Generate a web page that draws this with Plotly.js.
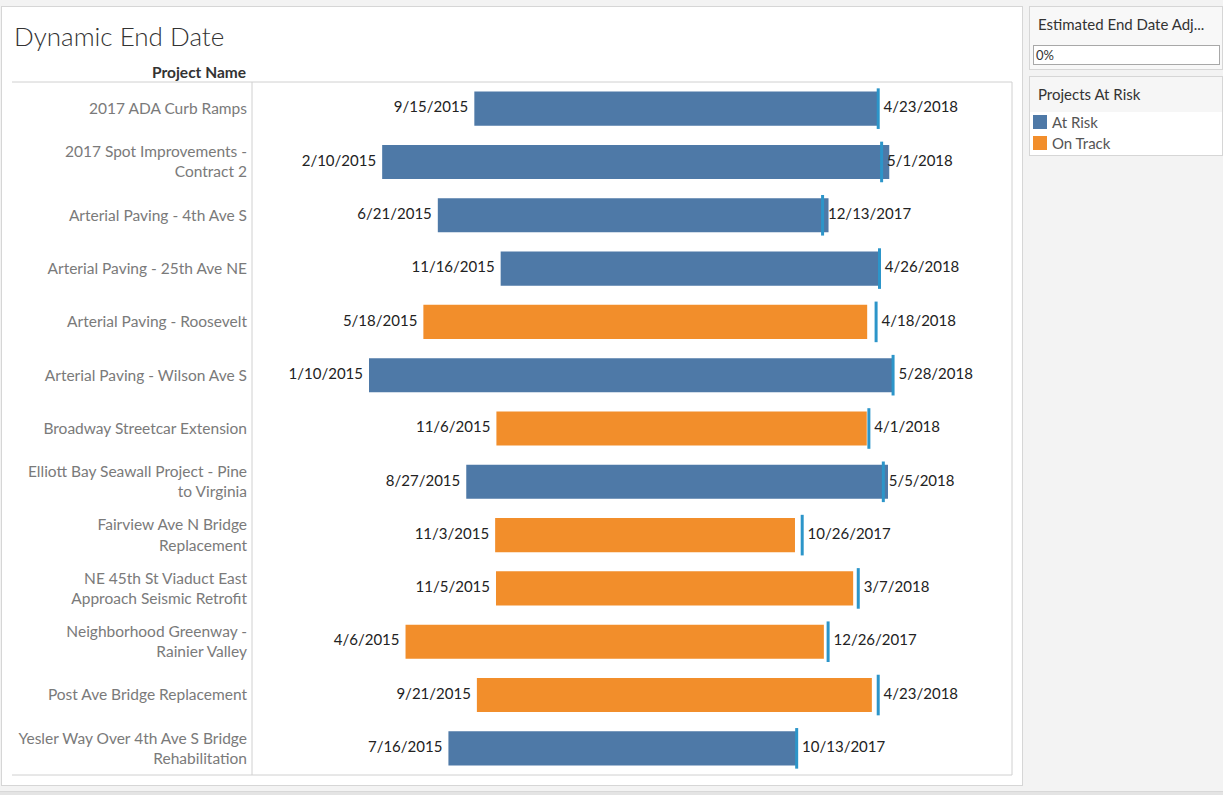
<!DOCTYPE html>
<html>
<head>
<meta charset="utf-8">
<script src="https://cdn.plot.ly/plotly-3.0.1.min.js"></script>
<style>
  html, body { margin:0; padding:0; width:1223px; height:795px; overflow:hidden; background:#f3f3f3; font-family: Lato, "Noto Sans", sans-serif; }
  .panel { position:absolute; box-sizing:border-box; border:1px solid #d6d6d6; }
  #main { left:1px; top:6px; width:1022px; height:780px; background:#fff; }
  #param { left:1029px; top:6px; width:194px; height:64px; background:#f8f8f8; }
  #legendbox { left:1029px; top:76px; width:194px; height:80px; background:#fff; }
  #bottombar { position:absolute; left:0; top:791px; width:1223px; height:4px; background:#e4e4e4; border-top:1px solid #d8d8d8; }
  .ptitle { position:absolute; left:8px; font-size:15px; color:#333; line-height:18px; white-space:nowrap; }
  #inputbox { position:absolute; left:3px; top:38px; width:187px; height:20px; box-sizing:border-box; background:#fff; border:1px solid #a8a8a8; font-size:13px; color:#333; line-height:18px; padding-left:2px; }
  #lheader { position:absolute; left:0; top:0; width:192px; height:35px; background:#f6f6f6; }
  .sw { position:absolute; left:3px; width:14px; height:14px; }
  .lt { position:absolute; left:22px; font-size:15px; color:#555; line-height:18px; white-space:nowrap; }
  #chart { position:absolute; left:0; top:0; width:1223px; height:795px; }
</style>
</head>
<body>
<div id="main" class="panel"></div>
<div id="param" class="panel">
  <div class="ptitle" style="top:8px;">Estimated End Date Adj...</div>
  <div id="inputbox">0%</div>
</div>
<div id="legendbox" class="panel">
  <div id="lheader"></div>
  <div class="ptitle" style="top:8px;">Projects At Risk</div>
  <div class="sw" style="top:38px; background:#4e79a7;"></div>
  <div class="lt" style="top:36px;">At Risk</div>
  <div class="sw" style="top:59px; background:#f28e2b;"></div>
  <div class="lt" style="top:57px;">On Track</div>
</div>
<div id="bottombar"></div>
<div id="chart"></div>
<script>
// ---------------- data ----------------
const projects = [
  '2017 ADA Curb Ramps',
  '2017 Spot Improvements - Contract 2',
  'Arterial Paving - 4th Ave S',
  'Arterial Paving - 25th Ave NE',
  'Arterial Paving - Roosevelt',
  'Arterial Paving - Wilson Ave S',
  'Broadway Streetcar Extension',
  'Elliott Bay Seawall Project - Pine to Virginia',
  'Fairview Ave N Bridge Replacement',
  'NE 45th St Viaduct East Approach Seismic Retrofit',
  'Neighborhood Greenway - Rainier Valley',
  'Post Ave Bridge Replacement',
  'Yesler Way Over 4th Ave S Bridge Rehabilitation'
];
const projectTickLabels = [
  '2017 ADA Curb Ramps',
  '2017 Spot Improvements -<br>Contract 2',
  'Arterial Paving - 4th Ave S',
  'Arterial Paving - 25th Ave NE',
  'Arterial Paving - Roosevelt',
  'Arterial Paving - Wilson Ave S',
  'Broadway Streetcar Extension',
  'Elliott Bay Seawall Project - Pine<br>to Virginia',
  'Fairview Ave N Bridge<br>Replacement',
  'NE 45th St Viaduct East<br>Approach Seismic Retrofit',
  'Neighborhood Greenway -<br>Rainier Valley',
  'Post Ave Bridge Replacement',
  'Yesler Way Over 4th Ave S Bridge<br>Rehabilitation'
];
const riskStatus = ['At Risk','At Risk','At Risk','At Risk','On Track','At Risk','On Track','At Risk','On Track','On Track','On Track','On Track','At Risk'];
const startDates = ['2015-09-15','2015-02-10','2015-06-21','2015-11-16','2015-05-18','2015-01-10','2015-11-06','2015-08-27','2015-11-03','2015-11-05','2015-04-06','2015-09-21','2015-07-16'];
const barEndDates = ['2018-04-23','2018-05-19','2017-12-27','2018-04-26','2018-03-28','2018-05-27','2018-03-27','2018-05-16','2017-10-09','2018-02-23','2017-12-16','2018-04-08','2017-10-12'];
const estimatedEndDates = ['2018-04-23','2018-05-01','2017-12-13','2018-04-26','2018-04-18','2018-05-28','2018-04-01','2018-05-05','2017-10-26','2018-03-07','2017-12-26','2018-04-23','2017-10-13'];
const statusColors = { 'At Risk': '#4e79a7', 'On Track': '#f28e2b' };

// ---------------- helpers ----------------
function fmt(d) { const p = d.split('-'); return (+p[1]) + '/' + (+p[2]) + '/' + p[0]; }
function ms(d) { return new Date(d + 'T00:00:00Z').getTime(); }

// ---------------- layout constants ----------------
const W = 1223, H = 795;
const L = 252, R = 1012, T = 82, B = 775;
const pw = R - L, ph = B - T;
const px2paperX = x => (x - L) / pw;
const px2paperY = y => (B - y) / ph;
const fontFam = 'Lato, "Noto Sans", sans-serif';

const traces = [];
['At Risk', 'On Track'].forEach(st => {
  const idx = projects.map((p, i) => i).filter(i => riskStatus[i] === st);
  traces.push({
    type: 'bar', orientation: 'h', name: st,
    y: idx.map(i => projects[i]),
    base: idx.map(i => startDates[i]),
    x: idx.map(i => ms(barEndDates[i]) - ms(startDates[i])),
    width: 0.64,
    marker: { color: statusColors[st], line: { width: 0 } },
    hoverinfo: 'skip', showlegend: false
  });
});
traces.push({
  type: 'scatter', mode: 'markers', name: 'Estimated End',
  y: projects, x: estimatedEndDates,
  marker: { symbol: 'line-ns', size: 29, color: '#2c95c9', line: { width: 3, color: '#2c95c9' } },
  hoverinfo: 'skip', showlegend: false, cliponaxis: false
});
traces.push({
  type: 'scatter', mode: 'markers+text', y: projects, x: startDates,
  text: startDates.map(fmt), textposition: 'middle left',
  marker: { size: 8, opacity: 0 },
  textfont: { family: fontFam, size: 15, color: '#222' },
  hoverinfo: 'skip', showlegend: false, cliponaxis: false
});
traces.push({
  type: 'scatter', mode: 'markers+text', y: projects, x: estimatedEndDates,
  text: estimatedEndDates.map(fmt), textposition: 'middle right',
  marker: { size: 7, opacity: 0 },
  textfont: { family: fontFam, size: 15, color: '#222' },
  hoverinfo: 'skip', showlegend: false, cliponaxis: false
});

const lineStyle = { color: '#d0d0d0', width: 1 };
const layout = {
  width: W, height: H,
  margin: { l: L, r: W - R, t: T, b: H - B, pad: 0 },
  paper_bgcolor: 'rgba(0,0,0,0)', plot_bgcolor: 'rgba(0,0,0,0)',
  font: { family: fontFam, size: 15, color: '#333' },
  barmode: 'overlay',
  showlegend: false,
  title: { text: 'Dynamic End Date', xref: 'container', yref: 'container', x: 14 / W, xanchor: 'left', y: 1 - 37 / H, yanchor: 'middle', font: { family: fontFam, size: 26, color: '#333', weight: 300 } },
  xaxis: { type: 'date', range: ['2014-04-09 12:00', '2019-03-04'], visible: false, fixedrange: true },
  yaxis: {
    type: 'category', categoryorder: 'array', categoryarray: projects,
    range: [projects.length - 0.5, -0.5], autorange: false,
    tickvals: projects, ticktext: projectTickLabels,
    ticks: '', showgrid: false, zeroline: false, showline: false,
    ticklabelstandoff: 4,
    tickfont: { family: fontFam, size: 15.5, color: '#7a7a7a' },
    fixedrange: true
  },
  shapes: [
    { type: 'line', xref: 'paper', yref: 'paper', x0: px2paperX(12), x1: 1, y0: 1, y1: 1, line: lineStyle },
    { type: 'line', xref: 'paper', yref: 'paper', x0: px2paperX(12), x1: 1, y0: 0, y1: 0, line: lineStyle },
    { type: 'line', xref: 'paper', yref: 'paper', x0: 0, x1: 0, y0: 0, y1: 1, line: lineStyle },
    { type: 'line', xref: 'paper', yref: 'paper', x0: 1, x1: 1, y0: 0, y1: 1, line: lineStyle }
  ],
  annotations: [
    { text: '<b>Project Name</b>', xref: 'paper', yref: 'paper', x: px2paperX(248), y: px2paperY(72), xanchor: 'right', yanchor: 'middle', showarrow: false, font: { family: fontFam, size: 15.5, color: '#333' } }
  ]
};

Plotly.newPlot('chart', traces, layout, { displayModeBar: false, staticPlot: true });
</script>
</body>
</html>
